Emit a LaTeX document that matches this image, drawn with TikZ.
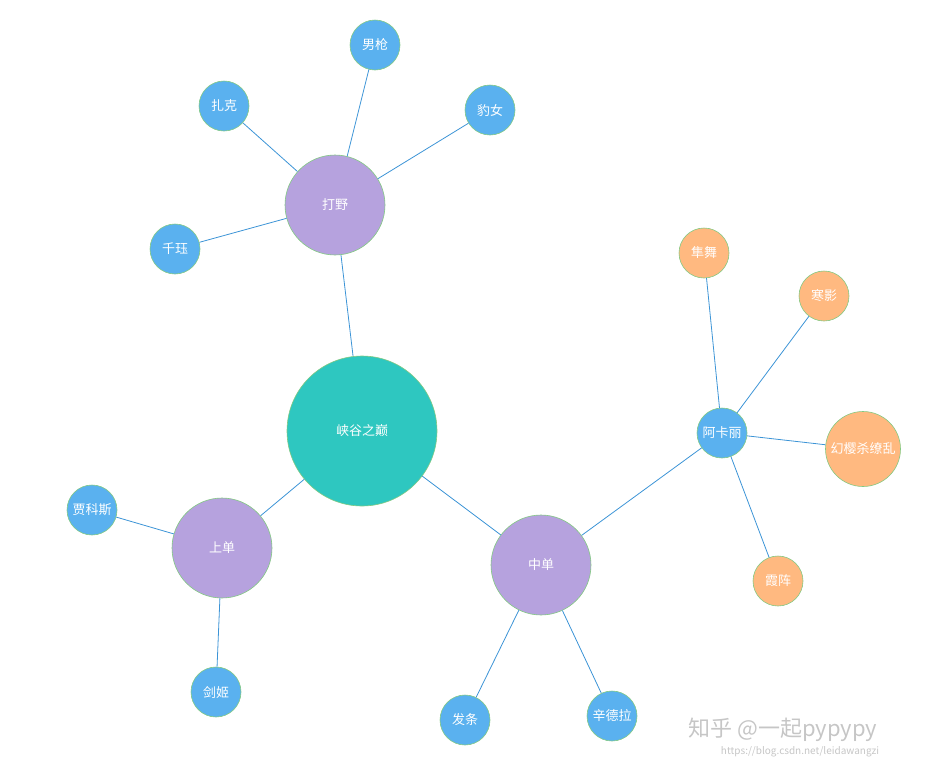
\documentclass[tikz,border=0pt]{standalone}
\usepackage{fontspec}
\setmainfont{Noto Sans CJK SC}
\begin{document}
\begin{tikzpicture}[x=1pt,y=-1pt,
 n/.style={circle,draw=green!40!gray!70,line width=0.6pt,text=white,inner sep=0pt,font=\fontsize{13}{13}\selectfont},
 big/.style={n,fill=teal0,minimum size=150pt},
 mid/.style={n,fill=purp,minimum size=100pt},
 sm/.style={n,fill=blu,minimum size=50pt},
 org/.style={n,fill=orn,minimum size=50pt},
 e/.style={draw=edg,line width=0.8pt}]
\definecolor{teal0}{HTML}{2EC7C0}
\definecolor{purp}{HTML}{B6A2DE}
\definecolor{blu}{HTML}{5AB1EF}
\definecolor{orn}{HTML}{FFB980}
\definecolor{edg}{HTML}{3C94D6}
\useasboundingbox (0,0) rectangle (926,772);
\node[big] (c) at (362,431) {峡谷之巅};
\node[mid] (dy) at (335,205) {打野};
\node[mid] (sd) at (222,548) {上单};
\node[mid] (zd) at (541,565) {中单};
\node[sm] (nq) at (375,45) {男枪};
\node[sm] (zk) at (224,106) {扎克};
\node[sm] (bn) at (490,110) {豹女};
\node[sm] (qj) at (175,249) {千珏};
\node[sm] (jk) at (92,510) {贾科斯};
\node[sm] (jj) at (216,692) {剑姬};
\node[sm] (ft) at (465,720) {发条};
\node[sm] (xd) at (612,716) {辛德拉};
\node[sm] (akl) at (722,433) {阿卡丽};
\node[org] (sw) at (704,253) {隼舞};
\node[org] (hy) at (824,296) {寒影};
\node[org,minimum size=75pt] (hyl) at (863,449) {幻樱杀缭乱};
\node[org] (xz) at (778,581) {霞阵};
\begin{scope}[on background layer/.style={}]
\end{scope}
\foreach \a/\b in {c/dy,c/sd,c/zd,dy/nq,dy/zk,dy/bn,dy/qj,sd/jk,sd/jj,zd/ft,zd/xd,zd/akl,akl/sw,akl/hy,akl/hyl,akl/xz}
  \draw[e] (\a) -- (\b);
\node[text=gray!45,font=\fontsize{22}{22}\selectfont] (wm) at (783,730) {知乎 @一起pypypy};
\node[text=gray!45,font=\fontsize{10}{10}\selectfont] (url) at (800,752) {https://blog.csdn.net/leidawangzi};
\end{tikzpicture}
\end{document}
